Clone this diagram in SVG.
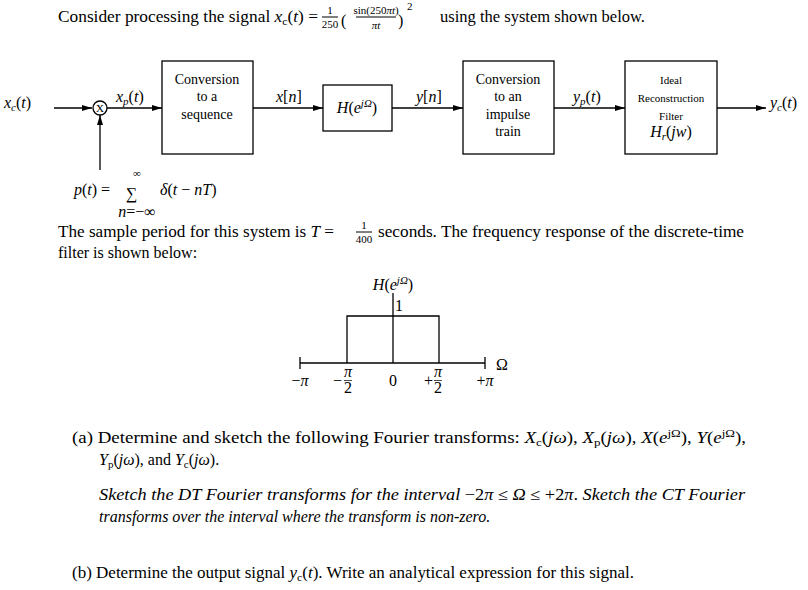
<svg xmlns="http://www.w3.org/2000/svg" width="808" height="590" viewBox="0 0 808 590">
<defs><marker id="ar" markerWidth="10" markerHeight="6" refX="10" refY="3" orient="auto" markerUnits="userSpaceOnUse"><path d="M0,0 L10,3 L0,6 Z" fill="#000"/></marker></defs>
<style>
text{font-family:"Liberation Serif","Times New Roman","DejaVu Serif",serif;font-size:16px;fill:#000}
.m{font-style:italic}
.b{font-size:14px}
.s{font-size:11px}
.box{fill:#fff;stroke:#000;stroke-width:1.3}
.ln{stroke:#000;stroke-width:1.3;fill:none}
</style>
<rect width="808" height="590" fill="#fff"/>
<text x="58" y="22" textLength="260" lengthAdjust="spacingAndGlyphs">Consider processing the signal <tspan class="m">x</tspan><tspan class="s" dy="3">c</tspan><tspan dy="-3">(</tspan><tspan class="m">t</tspan>) =</text>
<text x="330" y="14" class="s" text-anchor="middle">1</text><line x1="322" y1="17" x2="338" y2="17" stroke="#000"/><text x="330" y="28" class="s" text-anchor="middle">250</text>
<text x="341" y="26" font-size="24">(</text>
<text x="376" y="14" class="s" text-anchor="middle">sin(250<tspan class="m">πt</tspan>)</text><line x1="356" y1="17" x2="396" y2="17" stroke="#000"/><text x="376" y="29" class="s m" text-anchor="middle">πt</text>
<text x="398" y="26" font-size="24">)</text><text x="407" y="10" class="s">2</text>
<text x="440" y="22" textLength="205" lengthAdjust="spacingAndGlyphs">using the system shown below.</text>
<g id="connectors">
<line class="ln" x1="54" y1="108" x2="92" y2="108" marker-end="url(#ar)"/>
<line class="ln" x1="100" y1="170" x2="100" y2="115" marker-end="url(#ar)"/>
<line class="ln" x1="107" y1="108" x2="162" y2="108" marker-end="url(#ar)"/>
<line class="ln" x1="253" y1="108" x2="323" y2="108" marker-end="url(#ar)"/>
<line class="ln" x1="392" y1="108" x2="463" y2="108" marker-end="url(#ar)"/>
<line class="ln" x1="554" y1="108" x2="625" y2="108" marker-end="url(#ar)"/>
<line class="ln" x1="717" y1="108" x2="766" y2="108" marker-end="url(#ar)"/>
<text x="4" y="108" class="m">x<tspan class="s" dy="3">c</tspan><tspan dy="-3" font-style="normal">(</tspan>t<tspan font-style="normal">)</tspan></text>
<text x="116" y="102" class="m">x<tspan class="s" dy="3">p</tspan><tspan dy="-3" font-style="normal">(</tspan>t<tspan font-style="normal">)</tspan></text>
<text x="276" y="102" class="m">x<tspan font-style="normal">[</tspan>n<tspan font-style="normal">]</tspan></text>
<text x="416" y="102" class="m">y<tspan font-style="normal">[</tspan>n<tspan font-style="normal">]</tspan></text>
<text x="573" y="102" class="m">y<tspan class="s" dy="3">p</tspan><tspan dy="-3" font-style="normal">(</tspan>t<tspan font-style="normal">)</tspan></text>
<text x="770" y="108" class="m">y<tspan class="s" dy="3">c</tspan><tspan dy="-3" font-style="normal">(</tspan>t<tspan font-style="normal">)</tspan></text>
</g>
<g id="mult"><circle cx="100" cy="108" r="7" class="box"/><text x="100" y="112" class="s" text-anchor="middle">X</text></g>
<g id="conv1"><rect x="162" y="61" width="91" height="93" class="box"/>
<text x="207" y="84" class="b" text-anchor="middle">Conversion</text><text x="207" y="101" class="b" text-anchor="middle">to a</text><text x="207" y="119" class="b" text-anchor="middle">sequence</text></g>
<g id="hfilter"><rect x="323" y="85" width="69" height="46" class="box"/>
<text x="357" y="113" class="m" text-anchor="middle">H<tspan font-style="normal">(</tspan>e<tspan class="s" dy="-6">jΩ</tspan><tspan dy="6" font-style="normal">)</tspan></text></g>
<g id="conv2"><rect x="463" y="61" width="91" height="93" class="box"/>
<text x="508" y="84" class="b" text-anchor="middle">Conversion</text><text x="508" y="101" class="b" text-anchor="middle">to an</text><text x="508" y="119" class="b" text-anchor="middle">impulse</text><text x="508" y="136" class="b" text-anchor="middle">train</text></g>
<g id="recon"><rect x="625" y="61" width="92" height="93" class="box"/>
<text x="671" y="84" class="s" text-anchor="middle">Ideal</text><text x="671" y="102" class="s" text-anchor="middle">Reconstruction</text><text x="671" y="120" class="s" text-anchor="middle">Filter</text>
<text x="671" y="137" class="m" text-anchor="middle">H<tspan class="s" dy="3">r</tspan><tspan dy="-3" font-style="normal">(</tspan>jw<tspan font-style="normal">)</tspan></text></g>
<text x="74" y="195"><tspan class="m">p</tspan>(<tspan class="m">t</tspan>) =</text>
<text x="126" y="199" font-size="24">∑</text><text x="137" y="177" class="s" text-anchor="middle">∞</text><text x="137" y="217" font-size="8" text-anchor="middle" class="m">n<tspan font-style="normal">=−∞</tspan></text>
<text x="160" y="195"><tspan class="m">δ</tspan>(<tspan class="m">t</tspan> − <tspan class="m">nT</tspan>)</text>
<text x="58" y="237" textLength="276" lengthAdjust="spacingAndGlyphs">The sample period for this system is <tspan class="m">T</tspan> =</text>
<text x="364" y="229" class="s" text-anchor="middle">1</text><line x1="356" y1="232" x2="372" y2="232" stroke="#000"/><text x="364" y="243" class="s" text-anchor="middle">400</text>
<text x="378" y="237" textLength="366" lengthAdjust="spacingAndGlyphs">seconds.  The frequency response of the discrete-time</text>
<text x="58" y="258">filter is shown below:</text>
<g id="plot">
<line class="ln" x1="300" y1="363" x2="485" y2="363"/>
<line class="ln" x1="300" y1="357" x2="300" y2="369"/><line class="ln" x1="485" y1="357" x2="485" y2="369"/>
<line class="ln" x1="393" y1="293" x2="393" y2="363"/>
<polyline class="ln" points="347,363 347,316 439,316 439,363"/>
<text x="393" y="290" class="m" text-anchor="middle">H<tspan font-style="normal">(</tspan>e<tspan class="s" dy="-6">jΩ</tspan><tspan dy="6" font-style="normal">)</tspan></text>
<text x="395" y="311" font-size="14">1</text>
<text x="496" y="370">Ω</text>
<text x="300" y="386" text-anchor="middle">−<tspan class="m">π</tspan></text>
<text x="342" y="386" text-anchor="end">−</text><text x="348" y="377" font-size="8" text-anchor="middle" class="m">π</text><line x1="344" y1="380.5" x2="352" y2="380.5" stroke="#000" stroke-width="0.7"/><text x="348" y="393" font-size="8" text-anchor="middle">2</text>
<text x="393" y="386" text-anchor="middle">0</text>
<text x="433" y="386" text-anchor="end">+</text><text x="438" y="377" font-size="8" text-anchor="middle" class="m">π</text><line x1="434" y1="380.5" x2="442" y2="380.5" stroke="#000" stroke-width="0.7"/><text x="438" y="393" font-size="8" text-anchor="middle">2</text>
<text x="485" y="386" text-anchor="middle">+<tspan class="m">π</tspan></text>
</g>
<text x="72" y="443" textLength="674" lengthAdjust="spacingAndGlyphs">(a) Determine and sketch the following Fourier transforms:  <tspan class="m">X</tspan><tspan class="s" dy="3">c</tspan><tspan dy="-3">(</tspan><tspan class="m">jω</tspan>), <tspan class="m">X</tspan><tspan class="s" dy="3">p</tspan><tspan dy="-3">(</tspan><tspan class="m">jω</tspan>), <tspan class="m">X</tspan>(<tspan class="m">e</tspan><tspan class="s" dy="-6">jΩ</tspan><tspan dy="6">),</tspan> <tspan class="m">Y</tspan>(<tspan class="m">e</tspan><tspan class="s" dy="-6">jΩ</tspan><tspan dy="6">),</tspan></text>
<text x="99" y="465"><tspan class="m">Y</tspan><tspan class="s" dy="3">p</tspan><tspan dy="-3">(</tspan><tspan class="m">jω</tspan>), and <tspan class="m">Y</tspan><tspan class="s" dy="3">c</tspan><tspan dy="-3">(</tspan><tspan class="m">jω</tspan>).</text>
<text x="99" y="500" class="m" textLength="646" lengthAdjust="spacingAndGlyphs">Sketch the DT Fourier transforms for the interval <tspan font-style="normal">−2</tspan>π <tspan font-style="normal">≤</tspan> Ω <tspan font-style="normal">≤ +2</tspan>π<tspan font-style="normal">.</tspan>  Sketch the CT Fourier</text>
<text x="99" y="522" class="m">transforms over the interval where the transform is non-zero.</text>
<text x="72" y="578" textLength="562" lengthAdjust="spacingAndGlyphs">(b) Determine the output signal <tspan class="m">y</tspan><tspan class="s" dy="3">c</tspan><tspan dy="-3">(</tspan><tspan class="m">t</tspan>). Write an analytical expression for this signal.</text>
</svg>
